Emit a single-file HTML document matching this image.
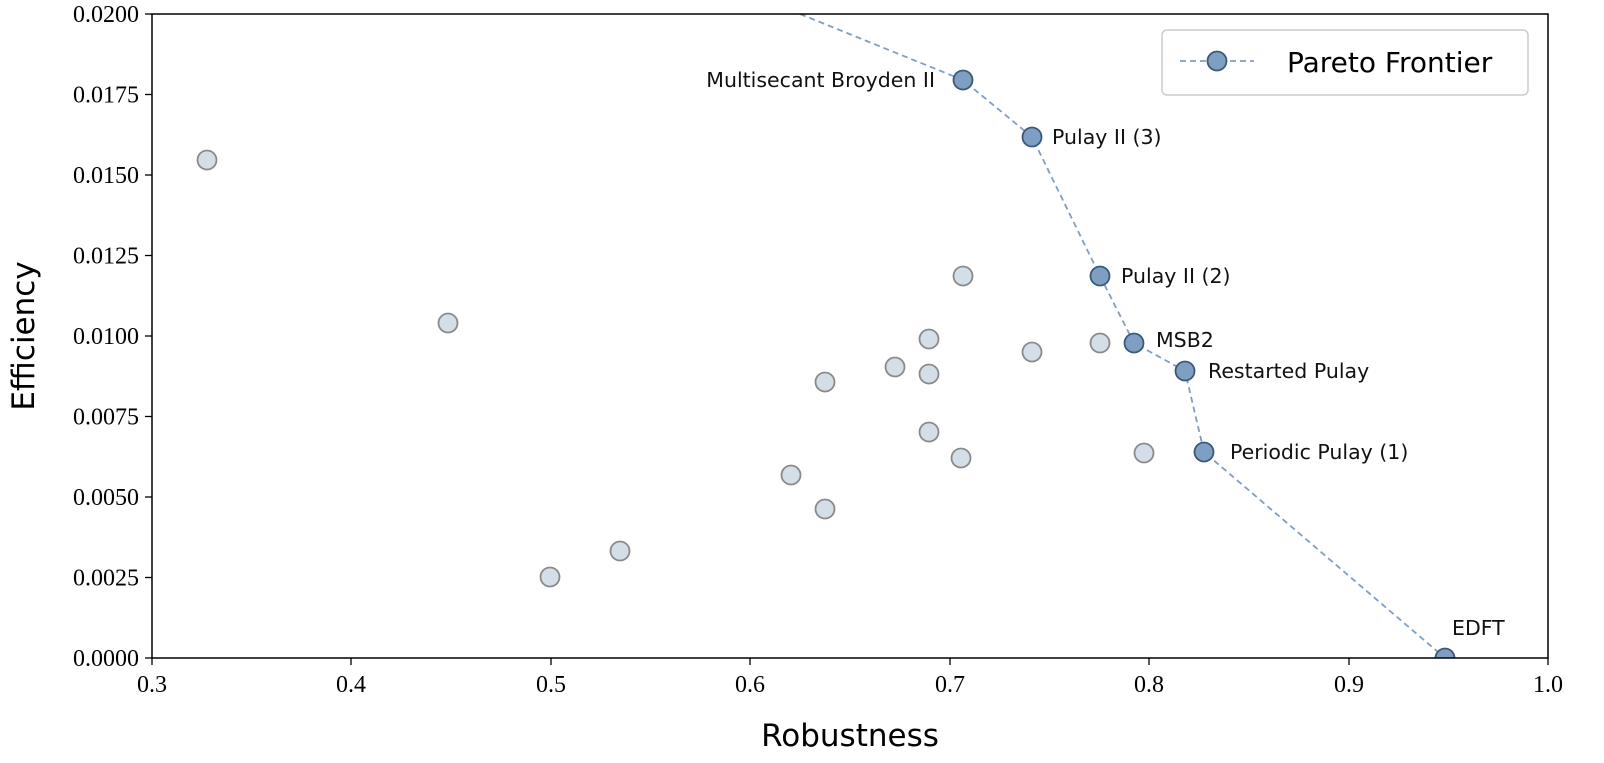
<!DOCTYPE html>
<html><head><meta charset="utf-8"><style>
html,body{margin:0;padding:0;background:#fff;}
svg{display:block;}
</style></head><body>
<svg width="1604" height="763" xmlns="http://www.w3.org/2000/svg">
<defs><clipPath id="c"><rect x="152" y="14" width="1396" height="644"/></clipPath></defs>
<g clip-path="url(#c)">
<polyline points="800,14 963,80 1032,137 1100,276 1134,343 1185,371 1204,452 1445,658" fill="none" stroke="#7f9fc2" stroke-width="1.8" stroke-dasharray="6,4"/>
<g fill="#d2dce8" stroke="#8a8a8a" stroke-width="1.8" fill-opacity="0.95">
<circle cx="207" cy="160" r="9.5"/><circle cx="448" cy="323" r="9.5"/>
<circle cx="550" cy="577" r="9.5"/><circle cx="620" cy="551" r="9.5"/>
<circle cx="791" cy="475" r="9.5"/><circle cx="825" cy="509" r="9.5"/>
<circle cx="825" cy="382" r="9.5"/><circle cx="895" cy="367" r="9.5"/>
<circle cx="929" cy="339" r="9.5"/><circle cx="929" cy="374" r="9.5"/>
<circle cx="929" cy="432" r="9.5"/><circle cx="961" cy="458" r="9.5"/>
<circle cx="963" cy="276" r="9.5"/><circle cx="1032" cy="352" r="9.5"/>
<circle cx="1100" cy="343" r="9.5"/><circle cx="1144" cy="453" r="9.5"/>
</g>
<g fill="#7f9fc2" stroke="#3b5878" stroke-width="1.8">
<circle cx="963" cy="80" r="9.5"/><circle cx="1032" cy="137" r="9.5"/>
<circle cx="1100" cy="276" r="9.5"/><circle cx="1134" cy="343" r="9.5"/>
<circle cx="1185" cy="371" r="9.5"/><circle cx="1204" cy="452" r="9.5"/>
<circle cx="1445" cy="658" r="9.5"/>
</g>
</g>
<rect x="152" y="14" width="1396" height="644" fill="none" stroke="#000" stroke-width="1.5"/>
<g font-family="'DejaVu Sans',sans-serif" font-size="20.5" fill="#111">
<text x="935" y="87" text-anchor="end">Multisecant Broyden II</text>
<text x="1052" y="144">Pulay II (3)</text>
<text x="1121" y="283">Pulay II (2)</text>
<text x="1156" y="347">MSB2</text>
<text x="1208" y="378">Restarted Pulay</text>
<text x="1230" y="459">Periodic Pulay (1)</text>
<text x="1452" y="635">EDFT</text>
</g>
<g stroke="#000" stroke-width="1.3">
<line x1="152" y1="658" x2="152" y2="665"/><line x1="351" y1="658" x2="351" y2="665"/>
<line x1="551" y1="658" x2="551" y2="665"/><line x1="750" y1="658" x2="750" y2="665"/>
<line x1="950" y1="658" x2="950" y2="665"/><line x1="1149" y1="658" x2="1149" y2="665"/>
<line x1="1349" y1="658" x2="1349" y2="665"/><line x1="1548" y1="658" x2="1548" y2="665"/>
<line x1="145" y1="14" x2="152" y2="14"/><line x1="145" y1="94.5" x2="152" y2="94.5"/>
<line x1="145" y1="175" x2="152" y2="175"/><line x1="145" y1="255.5" x2="152" y2="255.5"/>
<line x1="145" y1="336" x2="152" y2="336"/><line x1="145" y1="416.5" x2="152" y2="416.5"/>
<line x1="145" y1="497" x2="152" y2="497"/><line x1="145" y1="577.5" x2="152" y2="577.5"/>
<line x1="145" y1="658" x2="152" y2="658"/>
</g>
<g font-family="'Liberation Serif',serif" font-size="24" fill="#000" text-anchor="middle">
<text x="152" y="692">0.3</text><text x="351" y="692">0.4</text><text x="551" y="692">0.5</text>
<text x="750" y="692">0.6</text><text x="950" y="692">0.7</text><text x="1149" y="692">0.8</text>
<text x="1349" y="692">0.9</text><text x="1548" y="692">1.0</text>
</g>
<g font-family="'Liberation Serif',serif" font-size="24" fill="#000" text-anchor="end">
<text x="139" y="22">0.0200</text><text x="139" y="102.5">0.0175</text>
<text x="139" y="183">0.0150</text><text x="139" y="263.5">0.0125</text>
<text x="139" y="344">0.0100</text><text x="139" y="424.5">0.0075</text>
<text x="139" y="505">0.0050</text><text x="139" y="585.5">0.0025</text>
<text x="139" y="666">0.0000</text>
</g>
<text x="850" y="746" text-anchor="middle" font-family="'DejaVu Sans',sans-serif" font-size="31">Robustness</text>
<text transform="translate(34,336) rotate(-90)" text-anchor="middle" font-family="'DejaVu Sans',sans-serif" font-size="31">Efficiency</text>
<rect x="1162" y="30" width="366" height="65" rx="5" fill="#fff" stroke="#ccc" stroke-width="1.5"/>
<line x1="1180" y1="61" x2="1254" y2="61" stroke="#7f9fc2" stroke-width="1.8" stroke-dasharray="6,4"/>
<circle cx="1217" cy="61" r="9.5" fill="#7f9fc2" stroke="#3b5878" stroke-width="1.8"/>
<text x="1287" y="72" font-family="'DejaVu Sans',sans-serif" font-size="28">Pareto Frontier</text>
</svg>
</body></html>
